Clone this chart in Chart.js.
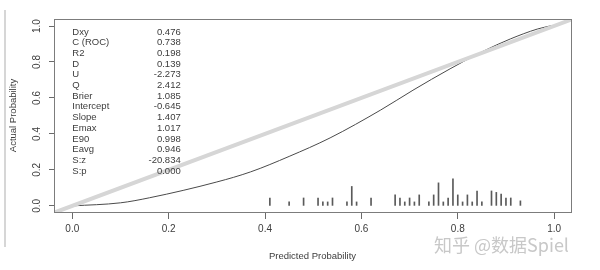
<!DOCTYPE html>
<html>
<head>
<meta charset="utf-8">
<script src="https://cdn.jsdelivr.net/npm/chart.js@4.4.0/dist/chart.umd.min.js"></script>
<style>
  html, body { margin: 0; padding: 0; background: #fff; }
  #wrap { position: relative; width: 600px; height: 270px; }
  #edge { position: absolute; left: 4px; top: 10px; width: 2px; height: 237px; background: #d6d6d6; }
  #mark { position: absolute; left: 434px; top: 231px; font: 18px "Noto Sans CJK SC"; color: #c8c8c8; white-space: nowrap; }
</style>
</head>
<body>
<div id="wrap">
  <canvas id="calChart" width="600" height="270"></canvas>
  <div id="edge"></div>
  <div id="mark">知乎 @数据Spiel</div>
</div>
<script>
// ejes
const xTicks = [0, 0.2, 0.4, 0.6, 0.8, 1.0];
const yTicks = [0, 0.2, 0.4, 0.6, 0.8, 1.0];

// linea ideal (diagonal)
const idealX = [-0.1, 1.1];
const idealY = [-0.1, 1.1];

// curva de calibracion
const curveX = [0, 0.10, 0.16, 0.30, 0.37, 0.45, 0.535, 0.64, 0.707, 0.784, 0.853, 0.909, 0.965, 0.996];
const curveY = [0, 0.017, 0.045, 0.133, 0.189, 0.275, 0.378, 0.533, 0.643, 0.762, 0.860, 0.928, 0.983, 1.003];

// rug / histograma de predicciones
const spikeX = [0.41, 0.45, 0.48, 0.51, 0.52, 0.53, 0.54, 0.57, 0.58, 0.59, 0.62,
  0.67, 0.68, 0.69, 0.70, 0.71, 0.72, 0.74, 0.75, 0.76, 0.77, 0.78, 0.79, 0.80,
  0.81, 0.82, 0.83, 0.84, 0.85, 0.87, 0.88, 0.89, 0.90, 0.91, 0.93];
const spikeH = [0.044, 0.022, 0.044, 0.044, 0.022, 0.022, 0.044, 0.022, 0.108, 0.022, 0.044,
  0.061, 0.044, 0.022, 0.044, 0.022, 0.061, 0.022, 0.061, 0.128, 0.022, 0.044, 0.15, 0.061,
  0.022, 0.061, 0.022, 0.083, 0.022, 0.083, 0.075, 0.066, 0.044, 0.044, 0.028];

// estadisticos
const statNames = ["Dxy", "C (ROC)", "R2", "D", "U", "Q", "Brier", "Intercept", "Slope",
  "Emax", "E90", "Eavg", "S:z", "S:p"];
const statValues = ["0.476", "0.738", "0.198", "0.139", "-2.273", "2.412", "1.085", "-0.645",
  "1.407", "1.017", "0.998", "0.946", "-20.834", "0.000"];

const TEXT = "#3c3c3c";
const FONT = "Liberation Sans, Arial, sans-serif";

const boxPlugin = {
  id: "box",
  afterDatasetsDraw(chart) {
    const { ctx, chartArea: a } = chart;
    ctx.save();
    ctx.strokeStyle = "#7c7c7c";
    ctx.lineWidth = 1;
    ctx.strokeRect(a.left + 0.5, a.top + 0.5, a.right - a.left, a.bottom - a.top);
    ctx.restore();
  }
};

const yLabelPlugin = {
  id: "yLabels",
  afterDraw(chart) {
    const { ctx, chartArea } = chart;
    const ys = chart.scales.y;
    ctx.save();
    ctx.fillStyle = TEXT;
    ctx.font = "10px " + FONT;
    ctx.textAlign = "center";
    ctx.textBaseline = "middle";
    yTicks.forEach(v => {
      ctx.save();
      ctx.translate(chartArea.left - 17, ys.getPixelForValue(v));
      ctx.rotate(-Math.PI / 2);
      ctx.fillText(v.toFixed(1), 0, 0);
      ctx.restore();
    });
    ctx.restore();
  }
};

const statsPlugin = {
  id: "stats",
  afterDraw(chart) {
    const { ctx } = chart;
    const xs = chart.scales.x, ys = chart.scales.y;
    const left = xs.getPixelForValue(0);
    const right = xs.getPixelForValue(0.225);
    const top = ys.getPixelForValue(0.967);
    ctx.save();
    ctx.fillStyle = TEXT;
    ctx.font = "9.5px " + FONT;
    ctx.textBaseline = "middle";
    statNames.forEach((name, i) => {
      const y = top + i * 10.7;
      ctx.textAlign = "left";
      ctx.fillText(name, left, y);
      ctx.textAlign = "right";
      ctx.fillText(statValues[i], right, y);
    });
    ctx.restore();
  }
};

const ctx = document.getElementById("calChart").getContext("2d");
new Chart(ctx, {
  type: "line",
  data: {
    datasets: [
      {
        type: "line",
        data: idealX.map((x, i) => ({ x, y: idealY[i] })),
        borderColor: "#d6d6d6",
        borderWidth: 4,
        pointRadius: 0
      },
      {
        type: "line",
        data: curveX.map((x, i) => ({ x, y: curveY[i] })),
        borderColor: "#4a4a4a",
        borderWidth: 1,
        pointRadius: 0,
        cubicInterpolationMode: "monotone"
      },
      {
        type: "bar",
        data: spikeX.map((x, i) => ({ x, y: spikeH[i] })),
        backgroundColor: "#5a5a5a",
        barThickness: 1
      }
    ]
  },
  options: {
    responsive: false,
    animation: false,
    layout: { padding: { left: 0, top: 19, right: 29, bottom: 0 } },
    plugins: { legend: { display: false }, tooltip: { enabled: false } },
    scales: {
      x: {
        type: "linear",
        min: -0.038,
        max: 1.035,
        offset: false,
        afterBuildTicks: s => { s.ticks = xTicks.map(v => ({ value: v })); },
        afterFit: s => { s.height = 58; },
        border: { display: false },
        grid: { drawOnChartArea: false, drawTicks: true, tickLength: 7, color: "#6a6a6a", offset: false },
        ticks: {
          color: TEXT,
          padding: 4,
          maxRotation: 0,
          font: { size: 10, family: FONT },
          callback: v => v.toFixed(1)
        },
        title: {
          display: true,
          text: "Predicted Probability",
          color: TEXT,
          font: { size: 9.5, family: FONT },
          padding: { top: 0, bottom: 8 }
        }
      },
      y: {
        type: "linear",
        min: -0.034,
        max: 1.039,
        afterBuildTicks: s => { s.ticks = yTicks.map(v => ({ value: v })); },
        afterFit: s => { s.width = 54; },
        border: { display: false },
        grid: { drawOnChartArea: false, drawTicks: true, tickLength: 5, color: "#6a6a6a" },
        ticks: { color: "rgba(0,0,0,0)", font: { size: 10, family: FONT } },
        title: {
          display: true,
          text: "Actual Probability",
          color: TEXT,
          font: { size: 9.5, family: FONT },
          padding: { top: 8, bottom: 0 }
        }
      }
    }
  },
  plugins: [boxPlugin, yLabelPlugin, statsPlugin]
});
</script>
</body>
</html>
